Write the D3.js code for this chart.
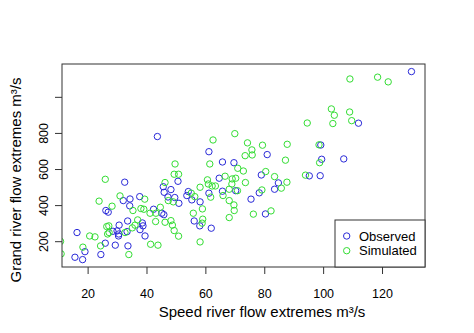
<!DOCTYPE html>
<html>
<head>
<meta charset="utf-8">
<script src="https://cdn.jsdelivr.net/npm/d3@7"></script>
<style>
  html, body { margin: 0; padding: 0; background: #fff; }
  svg { display: block; font-family: "Liberation Sans", Arial, Helvetica, sans-serif; }
</style>
</head>
<body>
<svg id="chart" width="474" height="333"></svg>
<script>
// ---- data ----
const obsX = [43.7,130,112,107,99.2,99.5,61.2,81,65.8,69.7,64.7,79,84.8,83.5,95.3,99,61.2,65.8,70.3,55.4,58.2,75.5,78.3,80.4,56.2,58.1,62,32.6,45.7,46,48.3,50.7,34.4,37.7,32.1,34.3,47.3,49.6,51,54.2,53.7,26.2,27,42.4,45.2,45.9,30.7,33.6,38.6,38.8,37.8,33.4,28.6,30,30.6,30.5,39.5,16.4,26,29.4,33.7,19.1,24.5,15.7,18.3];
const obsY = [780,1140,854,656,733,654,696,680,639,635,549,567,523,488,562,563,466,477,480,429,418,433,468,351,312,285,272,527,502,471,486,532,434,447,425,396,445,442,410,475,453,370,361,377,355,347,289,312,301,285,264,253,255,257,240,229,229,248,189,178,174,142,126,111,98];

const simX = [109.1,118.5,122.1,102.8,103.8,103.3,109,109.7,94.6,70,62.6,74.3,79.4,87.8,98.6,75.8,73.5,75.9,87.2,61.5,98.8,49.7,49.4,50.9,26,71,72.9,60.7,61,62.3,63.4,66.7,69.1,70.3,69,73.6,80.5,83.5,87.7,85.8,94,58.2,68.1,70.9,66,61.8,56.4,68.1,69.7,69.8,59,79.2,55.9,59.1,58.9,68.1,76.3,82.3,58.2,31,39.4,23.9,28.3,35.4,38.1,39.1,44.7,41.2,43.2,37,43.1,46.3,48.3,48.8,36.1,35.2,32.7,26.5,27.2,26.8,27.3,49.4,50.9,20.7,22.5,24.4,41.4,43.9,18.4,34,10.8,11,46.3,47.4,49.1,55.2];
const simY = [1099,1109,1083,933,898,852,916,868,855,796,761,745,732,737,734,706,674,678,649,628,635,628,571,571,543,604,589,540,517,506,506,560,545,549,517,525,586,558,527,494,566,499,488,480,453,444,447,425,401,370,379,484,355,322,300,331,350,368,196,451,433,422,394,370,381,377,388,355,355,318,309,305,314,289,289,274,248,281,285,240,248,259,228,229,224,174,183,178,167,126,199,130,525,425,418,466];

const xTicks = [20, 40, 60, 80, 100, 120];
const yTicks = [200, 400, 600, 800, 1000];
const yTickLabels = ["200", "400", "600", "800", ""];
const seriesNames = ["Observed", "Simulated"];
const seriesColors = ["#2a2ad8", "#33dd33"];

// ---- layout ----
const L = 62, R = 425, T = 64, B = 267;
const svg = d3.select("#chart");

const x = d3.scaleLinear().domain([11.3, 134.6]).range([L, R]);
const y = d3.scaleLinear().domain([57, 1182]).range([B, T]);

svg.append("defs").append("clipPath").attr("id", "plotclip")
  .append("rect").attr("x", L).attr("y", T).attr("width", R - L).attr("height", B - T);

// points: observed drawn first, simulated on top (as in the reference)
const series = [
  { xs: obsX, ys: obsY, color: seriesColors[0] },
  { xs: simX, ys: simY, color: seriesColors[1] }
];
const pts = svg.append("g").attr("clip-path", "url(#plotclip)");
series.forEach(s => {
  pts.append("g").selectAll("circle")
    .data(d3.range(s.xs.length))
    .join("circle")
    .attr("cx", i => x(s.xs[i]))
    .attr("cy", i => y(s.ys[i]))
    .attr("r", 3.2)
    .attr("fill", "none")
    .attr("stroke", s.color)
    .attr("stroke-width", 1);
});

// box
svg.append("rect").attr("x", L).attr("y", T).attr("width", R - L).attr("height", B - T)
  .attr("fill", "none").attr("stroke", "#333").attr("stroke-width", 1);

// x axis
const xAxis = svg.append("g").attr("transform", `translate(0,${B})`)
  .call(d3.axisBottom(x).tickValues(xTicks).tickSize(7).tickPadding(15).tickFormat(d3.format("d")));
xAxis.select(".domain").remove();
xAxis.selectAll("line").attr("stroke", "#333");
xAxis.selectAll("text").attr("font-size", 12.5).attr("fill", "#000")
  .attr("font-family", "Liberation Sans, Arial, sans-serif");

// y axis
const yAxis = svg.append("g").attr("transform", `translate(${L},0)`)
  .call(d3.axisLeft(y).tickValues(yTicks).tickSize(7).tickFormat((d, i) => yTickLabels[i]));
yAxis.select(".domain").remove();
yAxis.selectAll("line").attr("stroke", "#333");
yAxis.selectAll("text")
  .attr("font-size", 12.5).attr("fill", "#000")
  .attr("font-family", "Liberation Sans, Arial, sans-serif")
  .attr("transform", "rotate(-90)")
  .attr("x", 0).attr("y", -14).attr("dy", 0)
  .attr("text-anchor", "middle");

// axis titles
svg.append("text").attr("x", 262).attr("y", 317).attr("text-anchor", "middle")
  .attr("font-size", 15).attr("fill", "#000")
  .text("Speed river flow extremes  m³/s");
svg.append("text").attr("transform", "translate(20.5,180) rotate(-90)")
  .attr("text-anchor", "middle").attr("font-size", 15).attr("fill", "#000")
  .text("Grand river flow extremes m³/s");

// legend
const lg = svg.append("g");
lg.append("rect").attr("x", 335).attr("y", 220).attr("width", R - 335).attr("height", B - 220)
  .attr("fill", "#fff").attr("stroke", "#333").attr("stroke-width", 1);
seriesNames.forEach((name, i) => {
  const cy = 236 + i * 14.7;
  lg.append("circle").attr("cx", 346.7).attr("cy", cy).attr("r", 3.2)
    .attr("fill", "none").attr("stroke", seriesColors[i]).attr("stroke-width", 1);
  lg.append("text").attr("x", 359).attr("y", cy + 4.7).attr("font-size", 13).attr("fill", "#000")
    .text(name);
});
</script>
</body>
</html>
